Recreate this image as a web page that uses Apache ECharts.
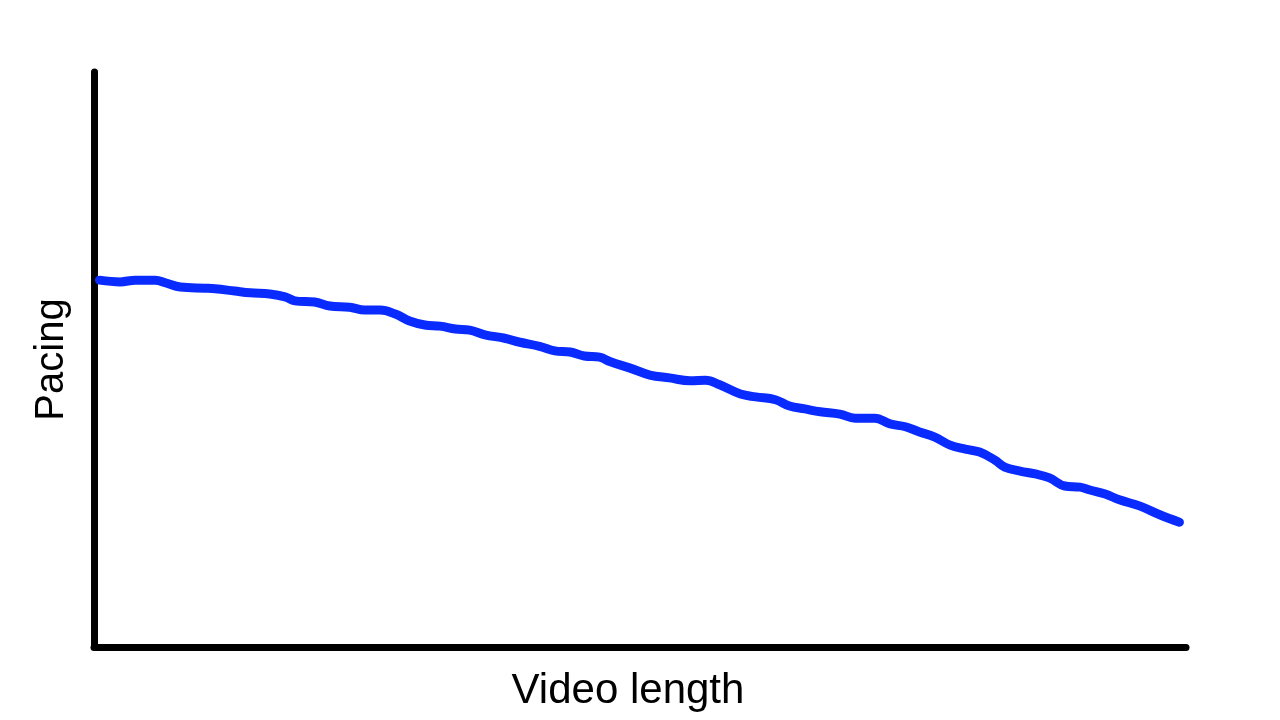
<!DOCTYPE html>
<html style="height: 100%">
<head>
    <meta charset="utf-8">
    <script src="https://cdn.jsdelivr.net/npm/echarts@6/dist/echarts.min.js"></script>
</head>
<body style="height: 100%; margin: 0; background: #fff">
    <div id="main" style="width: 1280px; height: 720px;"></div>
    <script type="text/javascript">
    // position along the video (0-100) and pacing (0-100)
    var videoPos = [0.5, 2.4, 3.8, 5.6, 6.6, 7.9, 10.2, 11.1, 12.9, 14.3, 16.1, 17.5, 18.4, 20.2,
        21.6, 23.4, 24.8, 26.2, 27.6, 28.9, 30.3, 31.7, 33.1, 34.4, 35.8, 37.6, 39.0, 40.8, 42.2,
        43.6, 44.9, 46.3, 47.3, 49.1, 50.9, 52.7, 54.6, 56.0, 57.3, 59.2, 60.6, 62.4, 63.7, 65.1,
        66.5, 68.3, 69.7, 71.5, 72.9, 74.3, 75.6, 77.0, 78.4, 79.8, 81.1, 82.5, 83.4, 84.8, 86.2,
        87.5, 88.9, 90.3, 91.2, 92.6, 93.9, 95.8, 97.6, 99.4];
    var pacing = [63.8, 63.5, 63.8, 63.8, 63.3, 62.6, 62.4, 62.3, 61.9, 61.6, 61.4, 60.9, 60.2, 60.0,
        59.3, 59.1, 58.6, 58.6, 57.9, 56.7, 56.0, 55.8, 55.3, 55.1, 54.3, 53.7, 53.0, 52.3, 51.5,
        51.3, 50.6, 50.4, 49.6, 48.5, 47.3, 46.8, 46.3, 46.4, 45.6, 44.0, 43.5, 43.0, 41.9, 41.4,
        40.9, 40.5, 39.8, 39.8, 38.8, 38.3, 37.4, 36.5, 35.1, 34.4, 33.9, 32.5, 31.3, 30.6, 30.1,
        29.4, 28.0, 27.8, 27.3, 26.6, 25.6, 24.5, 23.0, 21.7];

    var points = videoPos.map(function (x, i) { return [x, pacing[i]]; });

    var myChart = echarts.init(document.getElementById('main'));
    var axisLine = {
        show: true,
        lineStyle: { color: '#000', width: 7, cap: 'round' }
    };
    var option = {
        animation: false,
        grid: { left: 94, right: 94, top: 72, bottom: 73 },
        xAxis: {
            type: 'value',
            min: 0,
            max: 100,
            name: 'Video length',
            nameLocation: 'middle',
            nameGap: 23,
            nameTextStyle: { color: '#000', fontSize: 42, fontFamily: 'Liberation Sans', verticalAlign: 'top', padding: [0, 24, 0, 0] },
            axisLine: axisLine,
            axisTick: { show: false },
            axisLabel: { show: false },
            splitLine: { show: false }
        },
        yAxis: {
            type: 'value',
            min: 0,
            max: 100,
            name: 'Pacing',
            nameLocation: 'middle',
            nameGap: 22,
            nameRotate: 90,
            nameTextStyle: { color: '#000', fontSize: 40, fontFamily: 'Liberation Sans', verticalAlign: 'bottom' },
            axisLine: axisLine,
            axisTick: { show: false },
            axisLabel: { show: false },
            splitLine: { show: false }
        },
        series: [{
            type: 'line',
            data: points,
            smooth: 0.4,
            showSymbol: false,
            lineStyle: { color: '#0a2bff', width: 9, cap: 'round', join: 'round' }
        }]
    };
    myChart.setOption(option, true);
    </script>
</body>
</html>
